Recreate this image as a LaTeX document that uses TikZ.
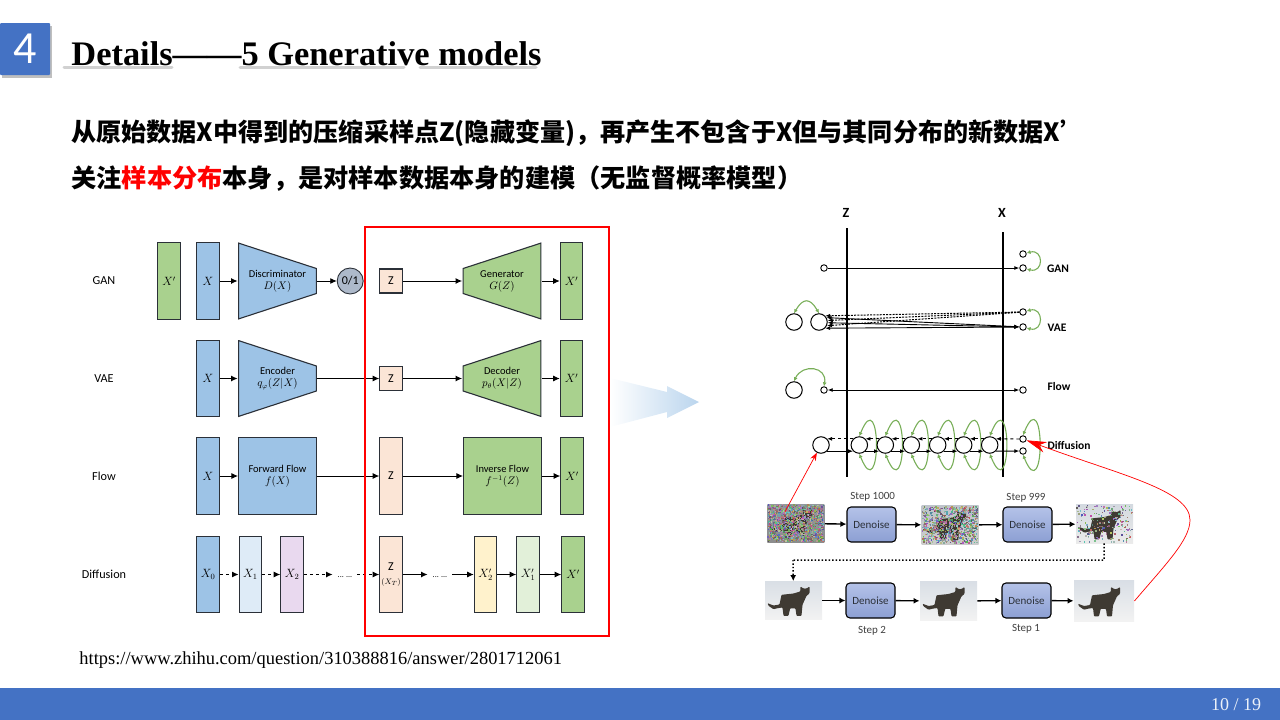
\documentclass[tikz,border=0pt]{standalone}
\usepackage{fontspec}
\setmainfont{Carlito}
\newfontfamily\cjk{Noto Sans CJK SC}
\newfontfamily\timesf{Liberation Serif}
\usetikzlibrary{positioning,calc,arrows.meta}
\definecolor{edgec}{HTML}{2B3038}
\definecolor{bluec}{HTML}{9DC3E6}
\definecolor{greenc}{HTML}{A9D18E}
\definecolor{peachc}{HTML}{FBE5D6}
\definecolor{barc}{HTML}{4472C4}
\definecolor{arcc}{HTML}{78AE58}
\definecolor{dntop}{HTML}{B4C2E8}
\definecolor{dnbot}{HTML}{8C9FD3}
\definecolor{steelc}{HTML}{9FB2C8}
\definecolor{catc}{HTML}{3F3A33}
\definecolor{circc}{HTML}{ADB9CA}
\definecolor{creamc}{HTML}{FFF2CC}
\definecolor{mintc}{HTML}{E2F0D9}
\definecolor{skyc}{HTML}{DEEBF7}
\definecolor{lilacc}{HTML}{E9D9EF}
\tikzstyle{bar} = [draw=edgec, line width=1.1pt, rectangle, inner sep=0pt, minimum width=22.5pt, minimum height=76.5pt, font=\fontsize{12}{14}\selectfont]
\tikzstyle{flowblock} = [draw=edgec, line width=1.1pt, rectangle, inner sep=0pt, minimum width=78pt, minimum height=76.5pt, align=center, font=\fontsize{10.5}{12}\selectfont]
\tikzstyle{zbox} = [draw=edgec, line width=1.1pt, rectangle, fill=peachc, inner sep=0pt, minimum width=22.5pt, minimum height=24pt, font=\fontsize{12}{14}\selectfont]
\tikzstyle{rowlabel} = [font=\fontsize{12.2}{14}\selectfont]
\tikzstyle{tiny} = [draw=black, circle, fill=white, line width=.9pt, inner sep=0pt, minimum size=6.5pt]
\tikzstyle{big} = [draw=black, circle, fill=white, line width=1pt, inner sep=0pt, minimum size=16.5pt]
\tikzstyle{mlabel} = [font=\fontsize{11.5}{13}\selectfont\bfseries]
\tikzstyle{axislabel} = [font=\fontsize{14}{16}\selectfont\bfseries]
\tikzstyle{arc} = [draw=arcc, line width=1.1pt, <->, >={Latex[length=4pt,width=4pt]}]
\tikzstyle{denoise} = [draw=black, line width=1.1pt, rectangle, rounded corners=4pt, top color=dntop, bottom color=dnbot, minimum width=49pt, minimum height=35pt, inner sep=0pt, text=edgec, font=\fontsize{11}{13}\selectfont]
\tikzstyle{steptext} = [text=black!75, font=\fontsize{11}{13}\selectfont]
\tikzstyle{thickarrow} = [line width=1.4pt, ->, >={Latex[length=6pt,width=6pt]}]
\tikzstyle{titleshadow} = [draw=black!18, line width=3pt, line cap=round]
\tikzset{trapright/.style={
    minimum width=79pt, minimum height=77pt, inner sep=0pt, align=center, font=\fontsize{10.5}{12}\selectfont,
    path picture={
        \filldraw[draw=edgec, fill=#1, line width=1.1pt]
            ($(path picture bounding box.north west)+(.6pt,-.6pt)$)
            -- ($(path picture bounding box.east)+(-.6pt,12.5pt)$)
            -- ($(path picture bounding box.east)+(-.6pt,-12.5pt)$)
            -- ($(path picture bounding box.south west)+(.6pt,.6pt)$) -- cycle;
        }
    },
    trapleft/.style={
    minimum width=79pt, minimum height=77pt, inner sep=0pt, align=center, font=\fontsize{10.5}{12}\selectfont,
    path picture={
        \filldraw[draw=edgec, fill=#1, line width=1.1pt]
            ($(path picture bounding box.north east)+(-.6pt,-.6pt)$)
            -- ($(path picture bounding box.west)+(.6pt,12.5pt)$)
            -- ($(path picture bounding box.west)+(.6pt,-12.5pt)$)
            -- ($(path picture bounding box.south east)+(-.6pt,.6pt)$) -- cycle;
        }
    }
}
\newcommand{\mycatimg}[5][57]{
    \colorlet{imgbase}{#5}
    \node [rectangle, inner sep=0pt, minimum width=#1pt, minimum height=#1*0.667pt, top color=imgbase!70!steelc, bottom color=imgbase] (#2) at #3 {};
    \begin{scope}[shift={#3}]
        \fill [catc, rounded corners=.8pt] (-26,2.7) -- (-20,5) -- (-14,4) -- (-12,-5.7) -- (0,-7) -- (6.7,-9) -- (7,-14) -- (10,-12) -- (13,-12) -- (16,-14) -- (16,-7) -- (13,-4.7) -- (9,4.3) -- (8,15.3) -- (3,15.3) -- (2,8) -- (-3.3,7.7) -- (-5,15.3) -- (-10,15.3) -- (-11,7) -- (-15,7.5) -- (-20,8.7) -- (-25,5.3) -- cycle;
        \ifnum#4>0
        \foreach \k in {1,...,#4} {
            \pgfmathsetmacro{\nx}{(rnd-0.5)*(#1-1.5)}
            \pgfmathsetmacro{\ny}{(rnd-0.5)*(#1*0.667-1.5)}
            \pgfmathsetmacro{\cr}{0.3+0.5*rnd}
            \pgfmathsetmacro{\cg}{0.3+0.5*rnd}
            \pgfmathsetmacro{\cb}{0.3+0.5*rnd}
            \definecolor{nz}{rgb}{\cr,\cg,\cb}
            \fill [nz] (\nx-.75,\ny-.75) rectangle (\nx+.75,\ny+.75);
        }
        \fi
    \end{scope}
}

\begin{document}
\begin{tikzpicture}[x=1pt, y=-1pt, >={Latex[length=6.5pt,width=6pt]}, line width=.9pt]
    \useasboundingbox (0,0) rectangle (1280,720);
    \pgfmathsetseed{11}

    \fill [black!25] (2,26) rectangle (52,78);
    \node [rectangle, fill=barc, rounded corners=1pt, minimum width=50pt, minimum height=52pt, inner sep=0pt, text=white, font=\fontsize{46}{48}\selectfont] (secnum) at (25,49) {4};
    \draw [titleshadow] (64,67) -- (172,67);
    \draw [titleshadow] (240,67) -- (404,67);
    \draw [titleshadow] (420,67) -- (536,67);
    \node [anchor=west, inner sep=0pt, font=\timesf\bfseries\fontsize{34.4}{38}\selectfont] (title) at (71,54) {Details——5 Generative models};
    \node [anchor=west, inner sep=0pt, font=\cjk\bfseries\fontsize{25.1}{28}\selectfont] (line1) at (71,133) {从原始数据X中得到的压缩采样点Z(隐藏变量)，再产生不包含于X但与其同分布的新数据X’};
    \node [anchor=west, inner sep=0pt, font=\cjk\bfseries\fontsize{25.2}{28}\selectfont] (line2) at (71,179) {关注\textcolor{red}{样本分布}本身，是对样本数据本身的建模（无监督概率模型）};

    \shade [left color=white, right color=bluec!70!white] (610,378) -- (667,392) -- (667,386) -- (699,402) -- (667,418) -- (667,412) -- (610,427) -- cycle;

    \node [rowlabel] (lgan) at (104,281) {GAN};
    \node [bar, fill=greenc] (xpg) at (169,281) {$X'$};
    \node [bar, fill=bluec, right of=xpg, node distance=39pt] (xg) {$X$};
    \node [trapright=bluec, right of=xg, node distance=69.5pt] (disc) {Discriminator\\$D(X)$};
    \node [draw=edgec, circle, fill=circc, inner sep=0pt, minimum size=26pt, right of=disc, node distance=72.7pt, font=\fontsize{12}{14}\selectfont] (out) {0/1};
    \draw [->] (xg) -- (disc);
    \draw [->] (disc) -- (out);
    \node [zbox] (zg) at (391,281) {Z};
    \node [trapleft=greenc, right of=zg, node distance=111pt] (gen) {Generator\\$G(Z)$};
    \node [bar, fill=greenc, right of=gen, node distance=69.5pt] (xpg2) {$X'$};
    \draw [->] (zg) -- (gen);
    \draw [->] (gen) -- (xpg2);

    \node [rowlabel] (lvae) at (104,379) {VAE};
    \node [bar, fill=bluec] (xv) at (208,378.5) {$X$};
    \node [trapright=bluec, right of=xv, node distance=69.5pt] (enc) {Encoder\\$q_\varphi(Z|X)$};
    \node [zbox, right of=enc, node distance=113.5pt] (zv) {Z};
    \node [trapleft=greenc, right of=zv, node distance=111pt] (dec) {Decoder\\$p_\theta(X|Z)$};
    \node [bar, fill=greenc, right of=dec, node distance=69.5pt] (xpv) {$X'$};
    \draw [->] (xv) -- (enc);
    \draw [->] (enc) -- (zv);
    \draw [->] (zv) -- (dec);
    \draw [->] (dec) -- (xpv);

    \node [rowlabel] (lflow) at (104,476) {Flow};
    \node [bar, fill=bluec] (xf) at (208,476) {$X$};
    \node [flowblock, fill=bluec, right of=xf, node distance=69.5pt] (ff) {Forward Flow\\$f(X)$};
    \node [bar, fill=peachc, right of=ff, node distance=113.5pt] (zf) {Z};
    \node [flowblock, fill=greenc, right of=zf, node distance=111.5pt] (inv) {Inverse Flow\\$f^{-1}(Z)$};
    \node [bar, fill=greenc, right of=inv, node distance=69.5pt] (xpf) {$X'$};
    \draw [->] (xf) -- (ff);
    \draw [->] (ff) -- (zf);
    \draw [->] (zf) -- (inv);
    \draw [->] (inv) -- (xpf);

    \node [rowlabel] (ldiff) at (104,574) {Diffusion};
    \node [bar, fill=bluec] (x0) at (208,574.5) {$X_0$};
    \node [bar, fill=skyc, right of=x0, node distance=42.3pt] (x1) {$X_1$};
    \node [bar, fill=lilacc, right of=x1, node distance=41.7pt] (x2) {$X_2$};
    \node [inner sep=0pt, minimum width=24pt, right of=x2, node distance=53pt, font=\fontsize{8}{9}\selectfont] (dots1) {\raisebox{-6pt}{... ...}};
    \node [bar, fill=peachc, align=center, right of=dots1, node distance=46pt] (zd) {Z\\{\fontsize{8.5}{10}\selectfont$(X_T)$}};
    \node [inner sep=0pt, minimum width=24pt, right of=zd, node distance=49pt, font=\fontsize{8}{9}\selectfont] (dots2) {\raisebox{-6pt}{... ...}};
    \node [bar, fill=creamc, right of=dots2, node distance=45.5pt] (xp2) {$X'_2$};
    \node [bar, fill=mintc, right of=xp2, node distance=42.5pt] (xp1) {$X'_1$};
    \node [bar, fill=greenc, right of=xp1, node distance=45pt] (xpd) {$X'$};
    \draw [->, dashed] (x0) -- (x1);
    \draw [->, dashed] (x1) -- (x2);
    \draw [->, dashed] (x2) -- (dots1);
    \draw [->, dashed] (dots1) -- (zd);
    \draw [->] (zd) -- (dots2);
    \draw [->] (dots2) -- (xp2);
    \draw [->] (xp2) -- (xp1);
    \draw [->] (xp1) -- (xpd);

    \node [draw=red, line width=2pt, rectangle, inner sep=0pt, minimum width=244pt, minimum height=409pt] (redframe) at (487,431.2) {};

    \node [axislabel] (zlab) at (846,213) {Z};
    \node [axislabel] (xlab) at (1002,213) {X};
    \coordinate (ztop) at (847,228);
    \coordinate (zbot) at (847,477);
    \coordinate (xtop) at (1003,232);
    \coordinate (xbot) at (1003,477);
    \draw [line width=2pt] (ztop) -- (zbot);
    \draw [line width=2pt] (xtop) -- (xbot);

    \node [tiny] (gz) at (824,268) {};
    \node [tiny] (gx) at (1023,268) {};
    \node [tiny] (gxp) at (1023,254) {};
    \node [mlabel] (gl) at (1058,269) {GAN};
    \draw [->, >={Latex[length=5pt,width=4pt]}] (gz) -- (gx);
    \draw [arc] (gxp) to[out=15, in=-15, distance=18pt] (gx);

    \node [big] (va) at (794,322) {};
    \node [big] (vb) at (819,322) {};
    \node [tiny] (vxp) at (1023,312) {};
    \node [tiny] (vx) at (1023,327) {};
    \node [mlabel] (vl) at (1057,328) {VAE};
    \draw [arc] (va.north) to[out=60, in=120, distance=18pt] (vb.north);
    \draw [arc] (vxp) to[out=15, in=-15, distance=18pt] (vx);
    \begin{scope}[>={Latex[length=5pt,width=4pt]}]
        \foreach \ang in {45,10,-25} \draw [->, dash pattern=on 2pt off 1.2pt, line width=1pt] (vxp) -- (vb.\ang);
        \foreach \ang in {30,-5,-45} \draw [<->] (vx) -- (vb.\ang);
    \end{scope}

    \node [big] (fa) at (794,390) {};
    \node [tiny] (fb) at (824,390) {};
    \node [tiny] (fx) at (1023,390) {};
    \node [mlabel] (fl) at (1059,387) {Flow};
    \draw [arc] (fa.north) to[out=65, in=80, distance=20pt] (fb.north);
    \draw [<->, >={Latex[length=5pt,width=4pt]}] (fb) -- (fx);

    \node [big] (d0) at (821,445) {};
    \foreach \n/\px in {1/859.3,2/885.3,3/911.3,4/937.7,5/963.7,6/989.7} {
        \node [big] (d\n) at (\px,445) {};
        \draw [arc] (d\n.north) to[out=68, in=-68, distance=60pt] (d\n.south);
    }
    \node [tiny] (dxp) at (1023,439) {};
    \node [tiny] (dx) at (1023,451) {};
    \node [mlabel] (dl) at (1069,445) {Diffusion};
    \draw [arc] (dxp.north) to[out=68, in=-68, distance=60pt] (dx.south);
    \begin{scope}[>={Latex[length=5pt,width=4pt]}]
        \foreach \a/\b in {1/0,2/1,3/2,4/3,5/4,6/5} {
            \draw [->, dashed] (d\a.135) -- (d\b.45);
            \draw [->] (d\b.-45) -- (d\a.-135);
        }
        \draw [->, dashed] (dxp) -- (d6.45);
        \draw [->] (d6.-45) -- (dx);
    \end{scope}

    \mycatimg{im1}{(795.8,523.3)}{1300}{black!45}
    \mycatimg{im2}{(950.2,525)}{750}{black!20}
    \mycatimg{im3}{(1104.5,524)}{180}{black!8}
    \mycatimg{im4}{(793.5,600.5)}{0}{black!5}
    \mycatimg{im5}{(948.5,601)}{0}{black!5}
    \mycatimg[60]{im6}{(1104,601)}{0}{black!5}

    \node [denoise] (dn1) at (871.5,524.5) {Denoise};
    \node [denoise] (dn2) at (1027.5,524.5) {Denoise};
    \node [denoise] (dn3) at (870.5,600.5) {Denoise};
    \node [denoise] (dn4) at (1026.5,600.5) {Denoise};
    \node [steptext] (s1000) at (872.7,497) {Step 1000};
    \node [steptext] (s999) at (1026,498) {Step 999};
    \node [steptext] (s2) at (872,631) {Step 2};
    \node [steptext] (s1) at (1026,628.5) {Step 1};
    \foreach \a/\b in {im1/dn1,dn1/im2,im2/dn2,dn2/im3,im4/dn3,dn3/im5,im5/dn4,dn4/im6}
        \draw [thickarrow] (\a) -- (\b);
    \coordinate (turnr) at (1104,560);
    \coordinate (turnl) at (793,560);
    \draw [line width=1.5pt, dotted] (im3) -- (turnr) -- (turnl);
    \draw [thickarrow, dotted] (turnl) -- (im4);

    \coordinate (rstart) at (785,511.7);
    \draw [red, line width=.7pt, -{Stealth[length=8pt,width=6pt]}] (rstart) -- (d0);
    \draw [red, line width=.7pt, -{Stealth[length=20pt,width=11pt]}] (im6.east) .. controls (1165,565) and (1190,540) .. (1190,520) .. controls (1190,490) and (1120,475) .. (dxp);

    \node [anchor=west, inner sep=0pt, font=\timesf\fontsize{18.45}{20}\selectfont] (src) at (79,660) {https://www.zhihu.com/question/310388816/answer/2801712061};

    \fill [barc] (0,688) rectangle (1280,720);
    \node [text=white!90!barc, font=\timesf\fontsize{18}{20}\selectfont] (page) at (1236,704.5) {10 / 19};
\end{tikzpicture}
\end{document}
